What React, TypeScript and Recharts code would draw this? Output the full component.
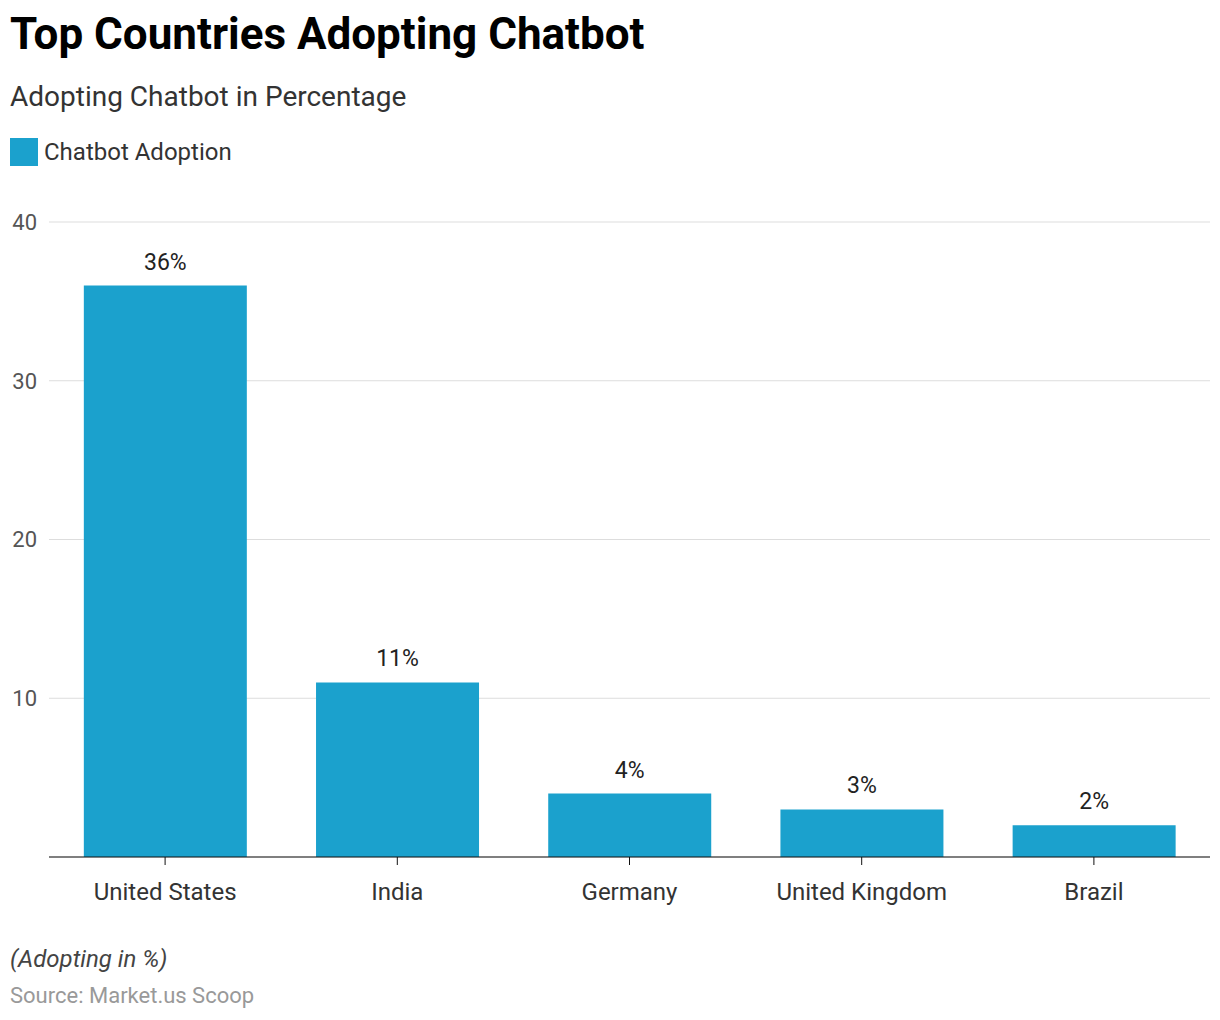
import { Bar, BarChart, CartesianGrid, LabelList, XAxis, YAxis } from "recharts";

const countries = ["United States", "India", "Germany", "United Kingdom", "Brazil"];
const adoption = [36, 11, 4, 3, 2];
const yTicks = [10, 20, 30, 40];

const data = countries.map((country, i) => ({ country, value: adoption[i] }));

const BAR_COLOR = "#1ba1cd";
const FONT = "Roboto, sans-serif";

export default function App() {
  return (
    <div
      style={{
        position: "fixed",
        left: 0,
        top: 0,
        width: 1220,
        height: 1020,
        background: "#fff",
        fontFamily: FONT,
        color: "#222",
      }}
    >
      <div style={{ position: "absolute", left: 10, top: 8, fontSize: 44, fontWeight: 700, color: "#000" }}>
        Top Countries Adopting Chatbot
      </div>
      <div style={{ position: "absolute", left: 10, top: 80, fontSize: 28, color: "#333" }}>
        Adopting Chatbot in Percentage
      </div>
      <div style={{ position: "absolute", left: 10, top: 138, display: "flex", alignItems: "center", gap: 6 }}>
        <span style={{ width: 28, height: 28, background: BAR_COLOR, display: "inline-block" }} />
        <span style={{ fontSize: 24, color: "#333" }}>Chatbot Adoption</span>
      </div>

      <div style={{ position: "absolute", left: 0, top: 0 }}>
        <BarChart
          width={1220}
          height={1020}
          data={data}
          margin={{ top: 222, right: 10, left: 1, bottom: 123 }}
          barCategoryGap="15%"
        >
          <CartesianGrid vertical={false} stroke="#dddddd" />
          <XAxis
            dataKey="country"
            height={40}
            axisLine={{ stroke: "#111" }}
            tickLine={{ stroke: "#111" }}
            tickSize={8}
            tick={{ fill: "#333", fontSize: 24, fontFamily: FONT }}
            tickMargin={18}
          />
          <YAxis
            width={48}
            domain={[0, 40]}
            ticks={yTicks}
            axisLine={false}
            tickLine={false}
            tick={{ fill: "#555", fontSize: 22, fontFamily: FONT, dx: -4 }}
          />
          <Bar dataKey="value" fill={BAR_COLOR} isAnimationActive={false}>
            <LabelList
              dataKey="value"
              position="top"
              offset={16}
              formatter={(v: number) => `${v}%`}
              style={{ fill: "#222", fontSize: 23, fontFamily: FONT }}
            />
          </Bar>
        </BarChart>
      </div>

      <div style={{ position: "absolute", left: 10, top: 945, fontSize: 24, fontStyle: "italic", color: "#444" }}>
        (Adopting in %)
      </div>
      <div style={{ position: "absolute", left: 10, top: 983, fontSize: 22, color: "#999" }}>
        Source: Market.us Scoop
      </div>
    </div>
  );
}
